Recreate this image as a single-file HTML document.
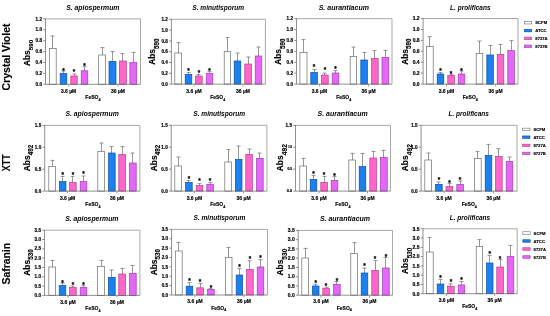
<!DOCTYPE html>
<html lang="en">
<head>
<meta charset="utf-8">
<title>Biofilm assays</title>
<style>
html,body{margin:0;padding:0;background:#fff;}
body{width:550px;height:316px;overflow:hidden;}
svg{display:block;}
text{font-family:"Liberation Sans",sans-serif;font-weight:bold;fill:#000;}
.rl{font-size:10.3px;stroke:#000;stroke-width:0.1px;}
.ti{font-size:6.9px;font-style:italic;text-anchor:middle;}
.tk{text-anchor:end;stroke:#000;stroke-width:0.18px;}
.xl{font-size:5px;text-anchor:middle;stroke:#000;stroke-width:0.15px;}
.sb{font-size:3.6px;}
.yl{font-size:8.4px;stroke:#000;stroke-width:0.15px;}
.ys{font-size:6.4px;}
.lg{font-size:4.2px;stroke:#000;stroke-width:0.15px;}
.st{font-size:6.4px;text-anchor:middle;stroke:#000;stroke-width:0.22px;}
.fr{fill:none;stroke:#a8a8a8;stroke-width:1;}
.ax{fill:none;stroke:#626262;stroke-width:0.7;}
.eb{fill:none;stroke:#505050;stroke-width:0.6;}
</style>
</head>
<body>
<svg width="550" height="316" viewBox="0 0 550 316">
<rect x="0" y="0" width="550" height="316" fill="#ffffff"/>
<text class="rl" transform="translate(10.4 90.5) rotate(-90)" textLength="67" lengthAdjust="spacingAndGlyphs">Crystal Violet</text>
<g>
<text class="ti" x="92.8" y="9.9" textLength="53.3" lengthAdjust="spacingAndGlyphs">S. apiospermum</text>
<path class="fr" d="M45.5 18.9H140.5V84.3"/>
<path class="eb" d="M52.5 48.4V36M50.5 36H54.5"/>
<rect x="49.6" y="48.4" width="6.6" height="35.9" fill="#ffffff" stroke="#6e6e6e" stroke-width="0.7"/>
<path class="eb" d="M63.5 73.6V71M61.5 71H65.5"/>
<rect x="60.2" y="73.6" width="6.6" height="10.7" fill="#1c80ee" stroke="#0a50a8" stroke-width="0.7"/>
<text class="st" x="63.5" y="72.9">*</text>
<path class="eb" d="M74.5 76V74M72.5 74H76.5"/>
<rect x="70.8" y="76" width="6.4" height="8.3" fill="#ff66cc" stroke="#b43c88" stroke-width="0.7"/>
<text class="st" x="74" y="73.7">*</text>
<path class="eb" d="M84.5 70.8V66.6M82.5 66.6H86.5"/>
<rect x="81.2" y="70.8" width="6.6" height="13.5" fill="#e666f6" stroke="#9c3cb4" stroke-width="0.7"/>
<text class="st" x="84.5" y="67.9">*</text>
<path class="eb" d="M102.5 55V47.6M100.5 47.6H104.5"/>
<rect x="98.7" y="55" width="6.7" height="29.3" fill="#ffffff" stroke="#6e6e6e" stroke-width="0.7"/>
<path class="eb" d="M112.5 61.4V51.6M110.5 51.6H114.5"/>
<rect x="109" y="61.4" width="7" height="22.9" fill="#1c80ee" stroke="#0a50a8" stroke-width="0.7"/>
<path class="eb" d="M122.5 61V53.6M120.5 53.6H124.5"/>
<rect x="119.5" y="61" width="6.8" height="23.3" fill="#ff66cc" stroke="#b43c88" stroke-width="0.7"/>
<path class="eb" d="M133.5 62.6V52.4M131.5 52.4H135.5"/>
<rect x="129.9" y="62.6" width="6.8" height="21.7" fill="#e666f6" stroke="#9c3cb4" stroke-width="0.7"/>
<path class="ax" d="M45.5 18.5V84.3H140.5"/>
<text class="tk" font-size="4.6" x="42" y="85.96">0.0</text>
<text class="tk" font-size="4.6" x="42" y="75.06">0.2</text>
<text class="tk" font-size="4.6" x="42" y="64.16">0.4</text>
<text class="tk" font-size="4.6" x="42" y="53.26">0.6</text>
<text class="tk" font-size="4.6" x="42" y="42.36">0.8</text>
<text class="tk" font-size="4.6" x="42" y="31.46">1.0</text>
<text class="tk" font-size="4.6" x="42" y="20.56">1.2</text>
<path class="ax" d="M43.2 84.3H45.5M43.2 73.4H45.5M43.2 62.5H45.5M43.2 51.6H45.5M43.2 40.7H45.5M43.2 29.8H45.5M43.2 18.9H45.5M68.6 84.3V86.5M118 84.3V86.5"/>
<text class="xl" x="68.6" y="92.9">3.6 µM</text>
<text class="xl" x="118" y="92.9">36 µM</text>
<text class="xl" x="92.9" y="99.3">FeSO<tspan class="sb" dy="1.5">4</tspan></text>
<text class="yl" transform="translate(30 66.1) rotate(-90)">Abs<tspan dy="3.2" font-size="4.9" textLength="10.4" lengthAdjust="spacingAndGlyphs">590</tspan></text>
</g>
<g>
<text class="ti" x="218.2" y="10.3" textLength="51.8" lengthAdjust="spacingAndGlyphs">S. minutisporum</text>
<path class="fr" d="M171.4 19.3H265.4V84.1"/>
<path class="eb" d="M178.5 53V42.6M176.5 42.6H180.5"/>
<rect x="174.8" y="53" width="6.6" height="31.1" fill="#ffffff" stroke="#6e6e6e" stroke-width="0.7"/>
<path class="eb" d="M188.5 74.4V72.6M186.5 72.6H190.5"/>
<rect x="185.2" y="74.4" width="6.6" height="9.7" fill="#1c80ee" stroke="#0a50a8" stroke-width="0.7"/>
<text class="st" x="188.5" y="72.9">*</text>
<path class="eb" d="M198.5 76V74.4M196.5 74.4H200.5"/>
<rect x="195.6" y="76" width="6.6" height="8.1" fill="#ff66cc" stroke="#b43c88" stroke-width="0.7"/>
<text class="st" x="198.9" y="75.1">*</text>
<path class="eb" d="M209.5 73.6V71.6M207.5 71.6H211.5"/>
<rect x="206.2" y="73.6" width="6.6" height="10.5" fill="#e666f6" stroke="#9c3cb4" stroke-width="0.7"/>
<text class="st" x="209.5" y="72.5">*</text>
<path class="eb" d="M227.5 51.6V37.6M225.5 37.6H229.5"/>
<rect x="224.2" y="51.6" width="6.4" height="32.5" fill="#ffffff" stroke="#6e6e6e" stroke-width="0.7"/>
<path class="eb" d="M237.5 61V53M235.5 53H239.5"/>
<rect x="234.2" y="61" width="6.6" height="23.1" fill="#1c80ee" stroke="#0a50a8" stroke-width="0.7"/>
<path class="eb" d="M248.5 64V57M246.5 57H250.5"/>
<rect x="244.8" y="64" width="6.6" height="20.1" fill="#ff66cc" stroke="#b43c88" stroke-width="0.7"/>
<path class="eb" d="M258.5 56V47M256.5 47H260.5"/>
<rect x="255.2" y="56" width="6.6" height="28.1" fill="#e666f6" stroke="#9c3cb4" stroke-width="0.7"/>
<path class="ax" d="M171.4 18.9V84.1H265.4"/>
<text class="tk" font-size="4.6" x="167.9" y="85.76">0.0</text>
<text class="tk" font-size="4.6" x="167.9" y="74.96">0.2</text>
<text class="tk" font-size="4.6" x="167.9" y="64.16">0.4</text>
<text class="tk" font-size="4.6" x="167.9" y="53.36">0.6</text>
<text class="tk" font-size="4.6" x="167.9" y="42.56">0.8</text>
<text class="tk" font-size="4.6" x="167.9" y="31.76">1.0</text>
<text class="tk" font-size="4.6" x="167.9" y="20.96">1.2</text>
<path class="ax" d="M169.1 84.1H171.4M169.1 73.3H171.4M169.1 62.5H171.4M169.1 51.7H171.4M169.1 40.9H171.4M169.1 30.1H171.4M169.1 19.3H171.4M194 84.1V86.3M243 84.1V86.3"/>
<text class="xl" x="194" y="92.7">3.6 µM</text>
<text class="xl" x="243" y="92.7">36 µM</text>
<text class="xl" x="217.7" y="99.1">FeSO<tspan class="sb" dy="1.5">4</tspan></text>
<text class="yl" transform="translate(155.4 64.8) rotate(-90)">Abs<tspan dy="3.5" font-size="6.3">590</tspan></text>
</g>
<g>
<text class="ti" x="343.8" y="9.7" textLength="50.2" lengthAdjust="spacingAndGlyphs">S. aurantiacum</text>
<path class="fr" d="M296.5 18.7H392V84.1"/>
<path class="eb" d="M303.5 52.4V39.6M301.5 39.6H305.5"/>
<rect x="299.9" y="52.4" width="7.1" height="31.7" fill="#ffffff" stroke="#6e6e6e" stroke-width="0.7"/>
<path class="eb" d="M314.5 72.4V69.4M312.5 69.4H316.5"/>
<rect x="310.8" y="72.4" width="6.6" height="11.7" fill="#1c80ee" stroke="#0a50a8" stroke-width="0.7"/>
<text class="st" x="314.1" y="68.5">*</text>
<path class="eb" d="M324.5 75V73M322.5 73H326.5"/>
<rect x="321.6" y="75" width="6.6" height="9.1" fill="#ff66cc" stroke="#b43c88" stroke-width="0.7"/>
<text class="st" x="324.9" y="72.1">*</text>
<path class="eb" d="M335.5 73V70.6M333.5 70.6H337.5"/>
<rect x="332.2" y="73" width="6.6" height="11.1" fill="#e666f6" stroke="#9c3cb4" stroke-width="0.7"/>
<text class="st" x="335.5" y="70.9">*</text>
<path class="eb" d="M353.5 56.4V47M351.5 47H355.5"/>
<rect x="350.2" y="56.4" width="6.4" height="27.7" fill="#ffffff" stroke="#6e6e6e" stroke-width="0.7"/>
<path class="eb" d="M364.5 60V52.4M362.5 52.4H366.5"/>
<rect x="360.8" y="60" width="6.6" height="24.1" fill="#1c80ee" stroke="#0a50a8" stroke-width="0.7"/>
<path class="eb" d="M374.5 58.6V50.6M372.5 50.6H376.5"/>
<rect x="371.6" y="58.6" width="6.6" height="25.5" fill="#ff66cc" stroke="#b43c88" stroke-width="0.7"/>
<path class="eb" d="M385.5 57.4V50.4M383.5 50.4H387.5"/>
<rect x="382" y="57.4" width="6.8" height="26.7" fill="#e666f6" stroke="#9c3cb4" stroke-width="0.7"/>
<path class="ax" d="M296.5 18.3V84.1H392"/>
<text class="tk" font-size="4.6" x="293" y="85.76">0.0</text>
<text class="tk" font-size="4.6" x="293" y="74.86">0.2</text>
<text class="tk" font-size="4.6" x="293" y="63.96">0.4</text>
<text class="tk" font-size="4.6" x="293" y="53.06">0.6</text>
<text class="tk" font-size="4.6" x="293" y="42.16">0.8</text>
<text class="tk" font-size="4.6" x="293" y="31.26">1.0</text>
<text class="tk" font-size="4.6" x="293" y="20.36">1.2</text>
<path class="ax" d="M294.2 84.1H296.5M294.2 73.2H296.5M294.2 62.3H296.5M294.2 51.4H296.5M294.2 40.5H296.5M294.2 29.6H296.5M294.2 18.7H296.5M319.4 84.1V86.3M368.6 84.1V86.3"/>
<text class="xl" x="319.4" y="92.7">3.6 µM</text>
<text class="xl" x="368.6" y="92.7">36 µM</text>
<text class="xl" x="343.7" y="99.1">FeSO<tspan class="sb" dy="1.5">4</tspan></text>
<text class="yl" transform="translate(280.9 64.8) rotate(-90)">Abs<tspan dy="3.6" font-size="6.3">590</tspan></text>
</g>
<g>
<text class="ti" x="470.3" y="9.5" textLength="40.4" lengthAdjust="spacingAndGlyphs">L. prolificans</text>
<path class="fr" d="M423.1 18.5H518V84.1"/>
<path class="eb" d="M429.5 46.6V36.6M427.5 36.6H431.5"/>
<rect x="426.6" y="46.6" width="6.6" height="37.5" fill="#ffffff" stroke="#6e6e6e" stroke-width="0.7"/>
<path class="eb" d="M440.5 74V72.6M438.5 72.6H442.5"/>
<rect x="437.2" y="74" width="6.6" height="10.1" fill="#1c80ee" stroke="#0a50a8" stroke-width="0.7"/>
<text class="st" x="440.5" y="73.1">*</text>
<path class="eb" d="M451.5 75.6V74.4M449.5 74.4H453.5"/>
<rect x="447.8" y="75.6" width="6.6" height="8.5" fill="#ff66cc" stroke="#b43c88" stroke-width="0.7"/>
<text class="st" x="451.1" y="75.5">*</text>
<path class="eb" d="M461.5 74V71M459.5 71H463.5"/>
<rect x="458.2" y="74" width="6.6" height="10.1" fill="#e666f6" stroke="#9c3cb4" stroke-width="0.7"/>
<text class="st" x="461.5" y="72.5">*</text>
<path class="eb" d="M479.5 53.4V41M477.5 41H481.5"/>
<rect x="476.2" y="53.4" width="6.6" height="30.7" fill="#ffffff" stroke="#6e6e6e" stroke-width="0.7"/>
<path class="eb" d="M490.5 55V45.4M488.5 45.4H492.5"/>
<rect x="486.8" y="55" width="6.6" height="29.1" fill="#1c80ee" stroke="#0a50a8" stroke-width="0.7"/>
<path class="eb" d="M500.5 54.4V44.4M498.5 44.4H502.5"/>
<rect x="497.2" y="54.4" width="6.6" height="29.7" fill="#ff66cc" stroke="#b43c88" stroke-width="0.7"/>
<path class="eb" d="M511.5 50.6V40.6M509.5 40.6H513.5"/>
<rect x="507.8" y="50.6" width="6.6" height="33.5" fill="#e666f6" stroke="#9c3cb4" stroke-width="0.7"/>
<path class="ax" d="M423.1 18.1V84.1H518"/>
<text class="tk" font-size="5.0" x="419.6" y="85.9">0.0</text>
<text class="tk" font-size="5.0" x="419.6" y="74.97">0.2</text>
<text class="tk" font-size="5.0" x="419.6" y="64.03">0.4</text>
<text class="tk" font-size="5.0" x="419.6" y="53.1">0.6</text>
<text class="tk" font-size="5.0" x="419.6" y="42.17">0.8</text>
<text class="tk" font-size="5.0" x="419.6" y="31.23">1.0</text>
<text class="tk" font-size="5.0" x="419.6" y="20.3">1.2</text>
<path class="ax" d="M420.8 84.1H423.1M420.8 73.17H423.1M420.8 62.23H423.1M420.8 51.3H423.1M420.8 40.37H423.1M420.8 29.43H423.1M420.8 18.5H423.1M446.4 84.1V86.3M495.6 84.1V86.3"/>
<text class="xl" x="446.4" y="92.7">3.6 µM</text>
<text class="xl" x="495.6" y="92.7">36 µM</text>
<text class="xl" x="470.3" y="99.1">FeSO<tspan class="sb" dy="1.5">4</tspan></text>
<text class="yl" transform="translate(407.9 64.8) rotate(-90)">Abs<tspan dy="3.3" font-size="6.3">590</tspan></text>
</g>
<rect x="524.3" y="21.45" width="7.4" height="2.5" fill="#ffffff" stroke="#6e6e6e" stroke-width="0.6"/>
<text class="lg" x="535.3" y="24.2">SCFM</text>
<rect x="524.3" y="29.35" width="7.4" height="2.5" fill="#1c80ee" stroke="#0a50a8" stroke-width="0.6"/>
<text class="lg" x="535.3" y="32.1">ATCC</text>
<rect x="524.3" y="37.15" width="7.4" height="2.5" fill="#ff66cc" stroke="#b43c88" stroke-width="0.6"/>
<text class="lg" x="535.3" y="39.9">8737A</text>
<rect x="524.3" y="45.05" width="7.4" height="2.5" fill="#e666f6" stroke="#9c3cb4" stroke-width="0.6"/>
<text class="lg" x="535.3" y="47.8">8737B</text>
<text class="rl" transform="translate(10.4 171.15) rotate(-90)" textLength="16.7" lengthAdjust="spacingAndGlyphs">XTT</text>
<g>
<text class="ti" x="92.1" y="116.4" textLength="53.3" lengthAdjust="spacingAndGlyphs">S. apiospermum</text>
<path class="fr" d="M44.7 125.4H139.9V191.1"/>
<path class="eb" d="M52.5 166.6V160.4M50.5 160.4H54.5"/>
<rect x="48.8" y="166.6" width="6.6" height="24.5" fill="#ffffff" stroke="#6e6e6e" stroke-width="0.7"/>
<path class="eb" d="M62.5 181.6V176.4M60.5 176.4H64.5"/>
<rect x="59.4" y="181.6" width="6.6" height="9.5" fill="#1c80ee" stroke="#0a50a8" stroke-width="0.7"/>
<text class="st" x="62.7" y="176.5">*</text>
<path class="eb" d="M72.5 182.6V176.4M70.5 176.4H74.5"/>
<rect x="69.6" y="182.6" width="6.6" height="8.5" fill="#ff66cc" stroke="#b43c88" stroke-width="0.7"/>
<text class="st" x="72.9" y="176.5">*</text>
<path class="eb" d="M83.5 181.6V176M81.5 176H85.5"/>
<rect x="80.2" y="181.6" width="6.6" height="9.5" fill="#e666f6" stroke="#9c3cb4" stroke-width="0.7"/>
<text class="st" x="83.5" y="176.1">*</text>
<path class="eb" d="M101.5 151.6V143M99.5 143H103.5"/>
<rect x="97.8" y="151.6" width="6.6" height="39.5" fill="#ffffff" stroke="#6e6e6e" stroke-width="0.7"/>
<path class="eb" d="M111.5 153V146.6M109.5 146.6H113.5"/>
<rect x="108.6" y="153" width="6.6" height="38.1" fill="#1c80ee" stroke="#0a50a8" stroke-width="0.7"/>
<path class="eb" d="M122.5 154.4V146.6M120.5 146.6H124.5"/>
<rect x="118.8" y="154.4" width="6.6" height="36.7" fill="#ff66cc" stroke="#b43c88" stroke-width="0.7"/>
<path class="eb" d="M132.5 163V153M130.5 153H134.5"/>
<rect x="129.6" y="163" width="6.6" height="28.1" fill="#e666f6" stroke="#9c3cb4" stroke-width="0.7"/>
<path class="ax" d="M44.7 125V191.1H139.9"/>
<text class="tk" font-size="4.6" x="41.2" y="192.76">0.0</text>
<text class="tk" font-size="4.6" x="41.2" y="170.86">0.5</text>
<text class="tk" font-size="4.6" x="41.2" y="148.96">1.0</text>
<text class="tk" font-size="4.6" x="41.2" y="127.06">1.5</text>
<path class="ax" d="M42.4 191.1H44.7M42.4 169.2H44.7M42.4 147.3H44.7M42.4 125.4H44.7M67.6 191.1V193.3M117 191.1V193.3"/>
<text class="xl" x="67.6" y="199.7">3.6 µM</text>
<text class="xl" x="117" y="199.7">36 µM</text>
<text class="xl" x="92.9" y="206.1">FeSO<tspan class="sb" dy="1.5">4</tspan></text>
<text class="yl" transform="translate(30 171.2) rotate(-90)">Abs<tspan dy="3.1" font-size="6.3">492</tspan></text>
</g>
<g>
<text class="ti" x="219.2" y="116.3" textLength="51.8" lengthAdjust="spacingAndGlyphs">S. minutisporum</text>
<path class="fr" d="M171.2 125.3H266.9V191.1"/>
<path class="eb" d="M178.5 166V157M176.5 157H180.5"/>
<rect x="174.8" y="166" width="6.6" height="25.1" fill="#ffffff" stroke="#6e6e6e" stroke-width="0.7"/>
<path class="eb" d="M188.5 182.4V180.6M186.5 180.6H190.5"/>
<rect x="185.6" y="182.4" width="6.6" height="8.7" fill="#1c80ee" stroke="#0a50a8" stroke-width="0.7"/>
<text class="st" x="188.9" y="180.5">*</text>
<path class="eb" d="M199.5 185.6V183.6M197.5 183.6H201.5"/>
<rect x="196.2" y="185.6" width="6.6" height="5.5" fill="#ff66cc" stroke="#b43c88" stroke-width="0.7"/>
<text class="st" x="199.5" y="182.5">*</text>
<path class="eb" d="M210.5 184.4V182.6M208.5 182.6H212.5"/>
<rect x="206.8" y="184.4" width="6.6" height="6.7" fill="#e666f6" stroke="#9c3cb4" stroke-width="0.7"/>
<text class="st" x="210.1" y="182.5">*</text>
<path class="eb" d="M228.5 162V149.6M226.5 149.6H230.5"/>
<rect x="224.8" y="162" width="6.6" height="29.1" fill="#ffffff" stroke="#6e6e6e" stroke-width="0.7"/>
<path class="eb" d="M238.5 159.4V146M236.5 146H240.5"/>
<rect x="235.4" y="159.4" width="6.6" height="31.7" fill="#1c80ee" stroke="#0a50a8" stroke-width="0.7"/>
<path class="eb" d="M249.5 154.4V149M247.5 149H251.5"/>
<rect x="245.8" y="154.4" width="6.6" height="36.7" fill="#ff66cc" stroke="#b43c88" stroke-width="0.7"/>
<path class="eb" d="M259.5 158.4V153M257.5 153H261.5"/>
<rect x="256.6" y="158.4" width="6.6" height="32.7" fill="#e666f6" stroke="#9c3cb4" stroke-width="0.7"/>
<path class="ax" d="M171.2 124.9V191.1H266.9"/>
<text class="tk" font-size="4.6" x="167.7" y="192.76">0.0</text>
<text class="tk" font-size="4.6" x="167.7" y="170.82">0.5</text>
<text class="tk" font-size="4.6" x="167.7" y="148.89">1.0</text>
<text class="tk" font-size="4.6" x="167.7" y="126.96">1.5</text>
<path class="ax" d="M168.9 191.1H171.2M168.9 169.17H171.2M168.9 147.23H171.2M168.9 125.3H171.2M194.4 191.1V193.3M243.6 191.1V193.3"/>
<text class="xl" x="194.4" y="199.7">3.6 µM</text>
<text class="xl" x="243.6" y="199.7">36 µM</text>
<text class="xl" x="217.7" y="206.1">FeSO<tspan class="sb" dy="1.5">4</tspan></text>
<text class="yl" transform="translate(156.5 171.2) rotate(-90)">Abs<tspan dy="3.6" font-size="6.3">492</tspan></text>
</g>
<g>
<text class="ti" x="342.6" y="116.4" textLength="50.2" lengthAdjust="spacingAndGlyphs">S. aurantiacum</text>
<path class="fr" d="M295.5 125.4H390.5V191.1"/>
<path class="eb" d="M303.5 166V158.4M301.5 158.4H305.5"/>
<rect x="299.8" y="166" width="6.6" height="25.1" fill="#ffffff" stroke="#6e6e6e" stroke-width="0.7"/>
<path class="eb" d="M313.5 179.4V175.4M311.5 175.4H315.5"/>
<rect x="310.2" y="179.4" width="6.6" height="11.7" fill="#1c80ee" stroke="#0a50a8" stroke-width="0.7"/>
<text class="st" x="313.5" y="175.5">*</text>
<path class="eb" d="M324.5 182.4V176.4M322.5 176.4H326.5"/>
<rect x="320.8" y="182.4" width="6.6" height="8.7" fill="#ff66cc" stroke="#b43c88" stroke-width="0.7"/>
<text class="st" x="324.1" y="176.9">*</text>
<path class="eb" d="M334.5 180.4V176.6M332.5 176.6H336.5"/>
<rect x="331.2" y="180.4" width="6.6" height="10.7" fill="#e666f6" stroke="#9c3cb4" stroke-width="0.7"/>
<text class="st" x="334.5" y="177.5">*</text>
<path class="eb" d="M352.5 160V153.4M350.5 153.4H354.5"/>
<rect x="348.8" y="160" width="6.6" height="31.1" fill="#ffffff" stroke="#6e6e6e" stroke-width="0.7"/>
<path class="eb" d="M362.5 166.6V153.4M360.5 153.4H364.5"/>
<rect x="359.2" y="166.6" width="6.6" height="24.5" fill="#1c80ee" stroke="#0a50a8" stroke-width="0.7"/>
<path class="eb" d="M373.5 158V151.4M371.5 151.4H375.5"/>
<rect x="369.8" y="158" width="6.6" height="33.1" fill="#ff66cc" stroke="#b43c88" stroke-width="0.7"/>
<path class="eb" d="M383.5 157.6V150.4M381.5 150.4H385.5"/>
<rect x="380.4" y="157.6" width="6.8" height="33.5" fill="#e666f6" stroke="#9c3cb4" stroke-width="0.7"/>
<path class="ax" d="M295.5 125V191.1H390.5"/>
<text class="tk" font-size="3.7" x="292" y="192.43">0.0</text>
<text class="tk" font-size="3.3" x="292" y="170.39">0.5</text>
<text class="tk" font-size="2.7" x="292" y="148.27">1.0</text>
<text class="tk" font-size="4.7" x="292" y="127.09">1.5</text>
<path class="ax" d="M293.2 191.1H295.5M293.2 169.2H295.5M293.2 147.3H295.5M293.2 125.4H295.5M319 191.1V193.3M367.6 191.1V193.3"/>
<text class="xl" x="319" y="199.7">3.6 µM</text>
<text class="xl" x="367.6" y="199.7">36 µM</text>
<text class="xl" x="342.9" y="206.1">FeSO<tspan class="sb" dy="1.5">4</tspan></text>
<text class="yl" transform="translate(282.8 171.2) rotate(-90)">Abs<tspan dy="4.5" font-size="6.8">492</tspan></text>
</g>
<g>
<text class="ti" x="468.7" y="116.3" textLength="40.4" lengthAdjust="spacingAndGlyphs">L. prolificans</text>
<path class="fr" d="M421.1 125.3H517V191.1"/>
<path class="eb" d="M428.5 160V153M426.5 153H430.5"/>
<rect x="424.8" y="160" width="6.6" height="31.1" fill="#ffffff" stroke="#6e6e6e" stroke-width="0.7"/>
<path class="eb" d="M438.5 184.4V182M436.5 182H440.5"/>
<rect x="435.6" y="184.4" width="6.6" height="6.7" fill="#1c80ee" stroke="#0a50a8" stroke-width="0.7"/>
<text class="st" x="438.9" y="182.1">*</text>
<path class="eb" d="M449.5 186.4V183.6M447.5 183.6H451.5"/>
<rect x="446" y="186.4" width="6.8" height="4.7" fill="#ff66cc" stroke="#b43c88" stroke-width="0.7"/>
<text class="st" x="449.4" y="185.1">*</text>
<path class="eb" d="M460.5 184.4V181M458.5 181H462.5"/>
<rect x="456.8" y="184.4" width="6.6" height="6.7" fill="#e666f6" stroke="#9c3cb4" stroke-width="0.7"/>
<text class="st" x="460.1" y="181.5">*</text>
<path class="eb" d="M477.5 158.4V151.6M475.5 151.6H479.5"/>
<rect x="474.6" y="158.4" width="6.6" height="32.7" fill="#ffffff" stroke="#6e6e6e" stroke-width="0.7"/>
<path class="eb" d="M488.5 155.4V144.4M486.5 144.4H490.5"/>
<rect x="485.2" y="155.4" width="6.6" height="35.7" fill="#1c80ee" stroke="#0a50a8" stroke-width="0.7"/>
<path class="eb" d="M498.5 156.4V148.6M496.5 148.6H500.5"/>
<rect x="495.6" y="156.4" width="6.6" height="34.7" fill="#ff66cc" stroke="#b43c88" stroke-width="0.7"/>
<path class="eb" d="M509.5 161.4V157M507.5 157H511.5"/>
<rect x="506.2" y="161.4" width="6.6" height="29.7" fill="#e666f6" stroke="#9c3cb4" stroke-width="0.7"/>
<path class="ax" d="M421.1 124.9V191.1H517"/>
<text class="tk" font-size="4.6" x="417.6" y="192.76">0.0</text>
<text class="tk" font-size="4.6" x="417.6" y="170.82">0.5</text>
<text class="tk" font-size="4.6" x="417.6" y="148.89">1.0</text>
<text class="tk" font-size="4.6" x="417.6" y="126.96">1.5</text>
<path class="ax" d="M418.8 191.1H421.1M418.8 169.17H421.1M418.8 147.23H421.1M418.8 125.3H421.1M444 191.1V193.3M493.4 191.1V193.3"/>
<text class="xl" x="444" y="199.7">3.6 µM</text>
<text class="xl" x="493.4" y="199.7">36 µM</text>
<text class="xl" x="469.3" y="206.1">FeSO<tspan class="sb" dy="1.5">4</tspan></text>
<text class="yl" transform="translate(407.9 171.2) rotate(-90)">Abs<tspan dy="3.8" font-size="6.8">492</tspan></text>
</g>
<rect x="522.6" y="128.15" width="7.4" height="2.5" fill="#ffffff" stroke="#6e6e6e" stroke-width="0.6"/>
<text class="lg" x="533.4" y="130.9">SCFM</text>
<rect x="522.6" y="135.95" width="7.4" height="2.5" fill="#1c80ee" stroke="#0a50a8" stroke-width="0.6"/>
<text class="lg" x="533.4" y="138.7">ATCC</text>
<rect x="522.6" y="144.15" width="7.4" height="2.5" fill="#ff66cc" stroke="#b43c88" stroke-width="0.6"/>
<text class="lg" x="533.4" y="146.9">8737A</text>
<rect x="522.6" y="152.15" width="7.4" height="2.5" fill="#e666f6" stroke="#9c3cb4" stroke-width="0.6"/>
<text class="lg" x="533.4" y="154.9">8737B</text>
<text class="rl" transform="translate(10.4 284.5) rotate(-90)" textLength="41.6" lengthAdjust="spacingAndGlyphs">Safranin</text>
<g>
<text class="ti" x="91.8" y="221.2" textLength="53.3" lengthAdjust="spacingAndGlyphs">S. apiospermum</text>
<path class="fr" d="M44.5 230.2H139.9V295.4"/>
<path class="eb" d="M52.5 267V260.4M50.5 260.4H54.5"/>
<rect x="48.8" y="267" width="6.6" height="28.4" fill="#ffffff" stroke="#6e6e6e" stroke-width="0.7"/>
<path class="eb" d="M62.5 285.6V283M60.5 283H64.5"/>
<rect x="59.2" y="285.6" width="6.6" height="9.8" fill="#1c80ee" stroke="#0a50a8" stroke-width="0.7"/>
<text class="st" x="62.5" y="284.5">*</text>
<path class="eb" d="M72.5 287.6V286M70.5 286H74.5"/>
<rect x="69.6" y="287.6" width="6.6" height="7.8" fill="#ff66cc" stroke="#b43c88" stroke-width="0.7"/>
<text class="st" x="72.9" y="287.1">*</text>
<path class="eb" d="M83.5 287.4V285.6M81.5 285.6H85.5"/>
<rect x="80.2" y="287.4" width="6.6" height="8" fill="#e666f6" stroke="#9c3cb4" stroke-width="0.7"/>
<text class="st" x="83.5" y="286.9">*</text>
<path class="eb" d="M101.5 266.6V260.4M99.5 260.4H103.5"/>
<rect x="97.6" y="266.6" width="6.8" height="28.8" fill="#ffffff" stroke="#6e6e6e" stroke-width="0.7"/>
<path class="eb" d="M111.5 277.4V270M109.5 270H113.5"/>
<rect x="108.4" y="277.4" width="6.8" height="18" fill="#1c80ee" stroke="#0a50a8" stroke-width="0.7"/>
<path class="eb" d="M122.5 274V268.4M120.5 268.4H124.5"/>
<rect x="118.8" y="274" width="6.6" height="21.4" fill="#ff66cc" stroke="#b43c88" stroke-width="0.7"/>
<path class="eb" d="M132.5 273.4V265.4M130.5 265.4H134.5"/>
<rect x="129.6" y="273.4" width="6.6" height="22" fill="#e666f6" stroke="#9c3cb4" stroke-width="0.7"/>
<path class="ax" d="M44.5 229.8V295.4H139.9"/>
<text class="tk" font-size="4.6" x="41" y="297.06">0.0</text>
<text class="tk" font-size="4.6" x="41" y="287.74">0.5</text>
<text class="tk" font-size="4.6" x="41" y="278.43">1.0</text>
<text class="tk" font-size="4.6" x="41" y="269.11">1.5</text>
<text class="tk" font-size="4.6" x="41" y="259.8">2.0</text>
<text class="tk" font-size="4.6" x="41" y="250.48">2.5</text>
<text class="tk" font-size="4.6" x="41" y="241.17">3.0</text>
<text class="tk" font-size="4.6" x="41" y="231.86">3.5</text>
<path class="ax" d="M42.2 295.4H44.5M42.2 286.09H44.5M42.2 276.77H44.5M42.2 267.46H44.5M42.2 258.14H44.5M42.2 248.83H44.5M42.2 239.51H44.5M42.2 230.2H44.5M68 295.4V297.6M117 295.4V297.6"/>
<text class="xl" x="68" y="303.6">3.6 µM</text>
<text class="xl" x="117" y="303.6">36 µM</text>
<text class="xl" x="92.9" y="310.1">FeSO<tspan class="sb" dy="1.5">4</tspan></text>
<text class="yl" transform="translate(30 275.7) rotate(-90)">Abs<tspan dy="3.3" font-size="6.3">530</tspan></text>
</g>
<g>
<text class="ti" x="219.4" y="220.4" textLength="51.8" lengthAdjust="spacingAndGlyphs">S. minutisporum</text>
<path class="fr" d="M171.6 229.4H267.5V295"/>
<path class="eb" d="M178.5 251V242.4M176.5 242.4H180.5"/>
<rect x="175.6" y="251" width="6.6" height="44" fill="#ffffff" stroke="#6e6e6e" stroke-width="0.7"/>
<path class="eb" d="M189.5 286.2V282.6M187.5 282.6H191.5"/>
<rect x="186.2" y="286.2" width="6.6" height="8.8" fill="#1c80ee" stroke="#0a50a8" stroke-width="0.7"/>
<text class="st" x="189.5" y="283">*</text>
<path class="eb" d="M200.5 287.8V283.4M198.5 283.4H202.5"/>
<rect x="196.8" y="287.8" width="6.6" height="7.2" fill="#ff66cc" stroke="#b43c88" stroke-width="0.7"/>
<text class="st" x="200.1" y="284.3">*</text>
<path class="eb" d="M210.5 289.4V288.6M208.5 288.6H212.5"/>
<rect x="207.6" y="289.4" width="6.6" height="5.6" fill="#e666f6" stroke="#9c3cb4" stroke-width="0.7"/>
<text class="st" x="210.9" y="289.5">*</text>
<path class="eb" d="M228.5 257.4V247.4M226.5 247.4H230.5"/>
<rect x="225.6" y="257.4" width="6.4" height="37.6" fill="#ffffff" stroke="#6e6e6e" stroke-width="0.7"/>
<path class="eb" d="M239.5 275V268.4M237.5 268.4H241.5"/>
<rect x="236.2" y="275" width="6.4" height="20" fill="#1c80ee" stroke="#0a50a8" stroke-width="0.7"/>
<text class="st" x="239.4" y="268.5">*</text>
<path class="eb" d="M249.5 269.4V260.6M247.5 260.6H251.5"/>
<rect x="246.6" y="269.4" width="6.6" height="25.6" fill="#ff66cc" stroke="#b43c88" stroke-width="0.7"/>
<text class="st" x="249.9" y="260.5">*</text>
<path class="eb" d="M260.5 267V259.6M258.5 259.6H262.5"/>
<rect x="257.2" y="267" width="6.6" height="28" fill="#e666f6" stroke="#9c3cb4" stroke-width="0.7"/>
<text class="st" x="260.5" y="259.9">*</text>
<path class="ax" d="M171.6 229V295H267.5"/>
<text class="tk" font-size="4.6" x="168.1" y="296.66">0.0</text>
<text class="tk" font-size="4.6" x="168.1" y="287.28">0.5</text>
<text class="tk" font-size="4.6" x="168.1" y="277.91">1.0</text>
<text class="tk" font-size="4.6" x="168.1" y="268.54">1.5</text>
<text class="tk" font-size="4.6" x="168.1" y="259.17">2.0</text>
<text class="tk" font-size="4.6" x="168.1" y="249.8">2.5</text>
<text class="tk" font-size="4.6" x="168.1" y="240.43">3.0</text>
<text class="tk" font-size="4.6" x="168.1" y="231.06">3.5</text>
<path class="ax" d="M169.3 295H171.6M169.3 285.63H171.6M169.3 276.26H171.6M169.3 266.89H171.6M169.3 257.51H171.6M169.3 248.14H171.6M169.3 238.77H171.6M169.3 229.4H171.6M195 295V297.2M244 295V297.2"/>
<text class="xl" x="195" y="303.2">3.6 µM</text>
<text class="xl" x="244" y="303.2">36 µM</text>
<text class="xl" x="218.7" y="309.7">FeSO<tspan class="sb" dy="1.5">4</tspan></text>
<text class="yl" transform="translate(156.5 275.3) rotate(-90)">Abs<tspan dy="3.6" font-size="6.3">530</tspan></text>
</g>
<g>
<text class="ti" x="345" y="221.4" textLength="50.2" lengthAdjust="spacingAndGlyphs">S. aurantiacum</text>
<path class="fr" d="M298.2 230.4H392.5V295.2"/>
<path class="eb" d="M305.5 258V248.4M303.5 248.4H307.5"/>
<rect x="301.8" y="258" width="6.6" height="37.2" fill="#ffffff" stroke="#6e6e6e" stroke-width="0.7"/>
<path class="eb" d="M315.5 286V284.2M313.5 284.2H317.5"/>
<rect x="312.4" y="286" width="6.6" height="9.2" fill="#1c80ee" stroke="#0a50a8" stroke-width="0.7"/>
<text class="st" x="315.7" y="285">*</text>
<path class="eb" d="M326.5 288.2V287M324.5 287H328.5"/>
<rect x="322.8" y="288.2" width="6.6" height="7" fill="#ff66cc" stroke="#b43c88" stroke-width="0.7"/>
<text class="st" x="326.1" y="287.5">*</text>
<path class="eb" d="M336.5 284.4V281.5M334.5 281.5H338.5"/>
<rect x="333.6" y="284.4" width="6.6" height="10.8" fill="#e666f6" stroke="#9c3cb4" stroke-width="0.7"/>
<text class="st" x="336.9" y="282.5">*</text>
<path class="eb" d="M354.5 253.4V242.6M352.5 242.6H356.5"/>
<rect x="350.8" y="253.4" width="6.6" height="41.8" fill="#ffffff" stroke="#6e6e6e" stroke-width="0.7"/>
<path class="eb" d="M364.5 273V268M362.5 268H366.5"/>
<rect x="361.2" y="273" width="6.6" height="22.2" fill="#1c80ee" stroke="#0a50a8" stroke-width="0.7"/>
<text class="st" x="364.5" y="268.1">*</text>
<path class="eb" d="M375.5 270.4V260.6M373.5 260.6H377.5"/>
<rect x="371.8" y="270.4" width="6.6" height="24.8" fill="#ff66cc" stroke="#b43c88" stroke-width="0.7"/>
<text class="st" x="375.1" y="261.1">*</text>
<path class="eb" d="M385.5 268V257.4M383.5 257.4H387.5"/>
<rect x="382.6" y="268" width="6.6" height="27.2" fill="#e666f6" stroke="#9c3cb4" stroke-width="0.7"/>
<text class="st" x="385.9" y="258.5">*</text>
<path class="ax" d="M298.2 230V295.2H392.5"/>
<text class="tk" font-size="5.0" x="294.7" y="297">0.0</text>
<text class="tk" font-size="5.0" x="294.7" y="287.74">0.5</text>
<text class="tk" font-size="5.0" x="294.7" y="278.49">1.0</text>
<text class="tk" font-size="5.0" x="294.7" y="269.23">1.5</text>
<text class="tk" font-size="5.0" x="294.7" y="259.97">2.0</text>
<text class="tk" font-size="5.0" x="294.7" y="250.71">2.5</text>
<text class="tk" font-size="5.0" x="294.7" y="241.46">3.0</text>
<text class="tk" font-size="5.0" x="294.7" y="232.2">3.5</text>
<path class="ax" d="M295.9 295.2H298.2M295.9 285.94H298.2M295.9 276.69H298.2M295.9 267.43H298.2M295.9 258.17H298.2M295.9 248.91H298.2M295.9 239.66H298.2M295.9 230.4H298.2M321 295.2V297.4M369.4 295.2V297.4"/>
<text class="xl" x="321" y="303.4">3.6 µM</text>
<text class="xl" x="369.4" y="303.4">36 µM</text>
<text class="xl" x="344.3" y="309.9">FeSO<tspan class="sb" dy="1.5">4</tspan></text>
<text class="yl" transform="translate(283.1 275.5) rotate(-90)">Abs<tspan dy="4.3" font-size="6.6">530</tspan></text>
</g>
<g>
<text class="ti" x="470" y="219.8" textLength="40.4" lengthAdjust="spacingAndGlyphs">L. prolificans</text>
<path class="fr" d="M423 228.8H517.2V293.7"/>
<path class="eb" d="M429.5 252V237.4M427.5 237.4H431.5"/>
<rect x="426.6" y="252" width="6.6" height="41.7" fill="#ffffff" stroke="#6e6e6e" stroke-width="0.7"/>
<path class="eb" d="M440.5 284V279.4M438.5 279.4H442.5"/>
<rect x="437.2" y="284" width="6.6" height="9.7" fill="#1c80ee" stroke="#0a50a8" stroke-width="0.7"/>
<text class="st" x="440.5" y="279.5">*</text>
<path class="eb" d="M450.5 286.2V283.8M448.5 283.8H452.5"/>
<rect x="447.6" y="286.2" width="6.6" height="7.5" fill="#ff66cc" stroke="#b43c88" stroke-width="0.7"/>
<text class="st" x="450.9" y="284.1">*</text>
<path class="eb" d="M461.5 285V281.5M459.5 281.5H463.5"/>
<rect x="458.2" y="285" width="6.6" height="8.7" fill="#e666f6" stroke="#9c3cb4" stroke-width="0.7"/>
<text class="st" x="461.5" y="281.9">*</text>
<path class="eb" d="M479.5 246.6V239.6M477.5 239.6H481.5"/>
<rect x="476.2" y="246.6" width="6.4" height="47.1" fill="#ffffff" stroke="#6e6e6e" stroke-width="0.7"/>
<path class="eb" d="M489.5 263V255.4M487.5 255.4H491.5"/>
<rect x="486.6" y="263" width="6.4" height="30.7" fill="#1c80ee" stroke="#0a50a8" stroke-width="0.7"/>
<text class="st" x="489.8" y="256.1">*</text>
<path class="eb" d="M500.5 267V259.6M498.5 259.6H502.5"/>
<rect x="496.8" y="267" width="6.6" height="26.7" fill="#ff66cc" stroke="#b43c88" stroke-width="0.7"/>
<text class="st" x="500.1" y="260.5">*</text>
<path class="eb" d="M510.5 256.6V245.4M508.5 245.4H512.5"/>
<rect x="507.2" y="256.6" width="6.6" height="37.1" fill="#e666f6" stroke="#9c3cb4" stroke-width="0.7"/>
<path class="ax" d="M423 228.4V293.7H517.2"/>
<text class="tk" font-size="5.0" x="419.5" y="295.5">0.0</text>
<text class="tk" font-size="5.0" x="419.5" y="286.23">0.5</text>
<text class="tk" font-size="5.0" x="419.5" y="276.96">1.0</text>
<text class="tk" font-size="5.0" x="419.5" y="267.69">1.5</text>
<text class="tk" font-size="5.0" x="419.5" y="258.41">2.0</text>
<text class="tk" font-size="5.0" x="419.5" y="249.14">2.5</text>
<text class="tk" font-size="5.0" x="419.5" y="239.87">3.0</text>
<text class="tk" font-size="5.0" x="419.5" y="230.6">3.5</text>
<path class="ax" d="M420.7 293.7H423M420.7 284.43H423M420.7 275.16H423M420.7 265.89H423M420.7 256.61H423M420.7 247.34H423M420.7 238.07H423M420.7 228.8H423M446.4 293.7V295.9M494.6 293.7V295.9"/>
<text class="xl" x="446.4" y="301.9">3.6 µM</text>
<text class="xl" x="494.6" y="301.9">36 µM</text>
<text class="xl" x="469.7" y="308.4">FeSO<tspan class="sb" dy="1.5">4</tspan></text>
<text class="yl" transform="translate(408.3 274) rotate(-90)">Abs<tspan dy="3.5" font-size="6.3">530</tspan></text>
</g>
<rect x="522.8" y="231.75" width="7.4" height="2.5" fill="#ffffff" stroke="#6e6e6e" stroke-width="0.6"/>
<text class="lg" x="533.6" y="234.5">SCFM</text>
<rect x="522.8" y="239.75" width="7.4" height="2.5" fill="#1c80ee" stroke="#0a50a8" stroke-width="0.6"/>
<text class="lg" x="533.6" y="242.5">ATCC</text>
<rect x="522.8" y="247.75" width="7.4" height="2.5" fill="#ff66cc" stroke="#b43c88" stroke-width="0.6"/>
<text class="lg" x="533.6" y="250.5">8737A</text>
<rect x="522.8" y="255.75" width="7.4" height="2.5" fill="#e666f6" stroke="#9c3cb4" stroke-width="0.6"/>
<text class="lg" x="533.6" y="258.5">8737B</text>
</svg>
</body>
</html>
